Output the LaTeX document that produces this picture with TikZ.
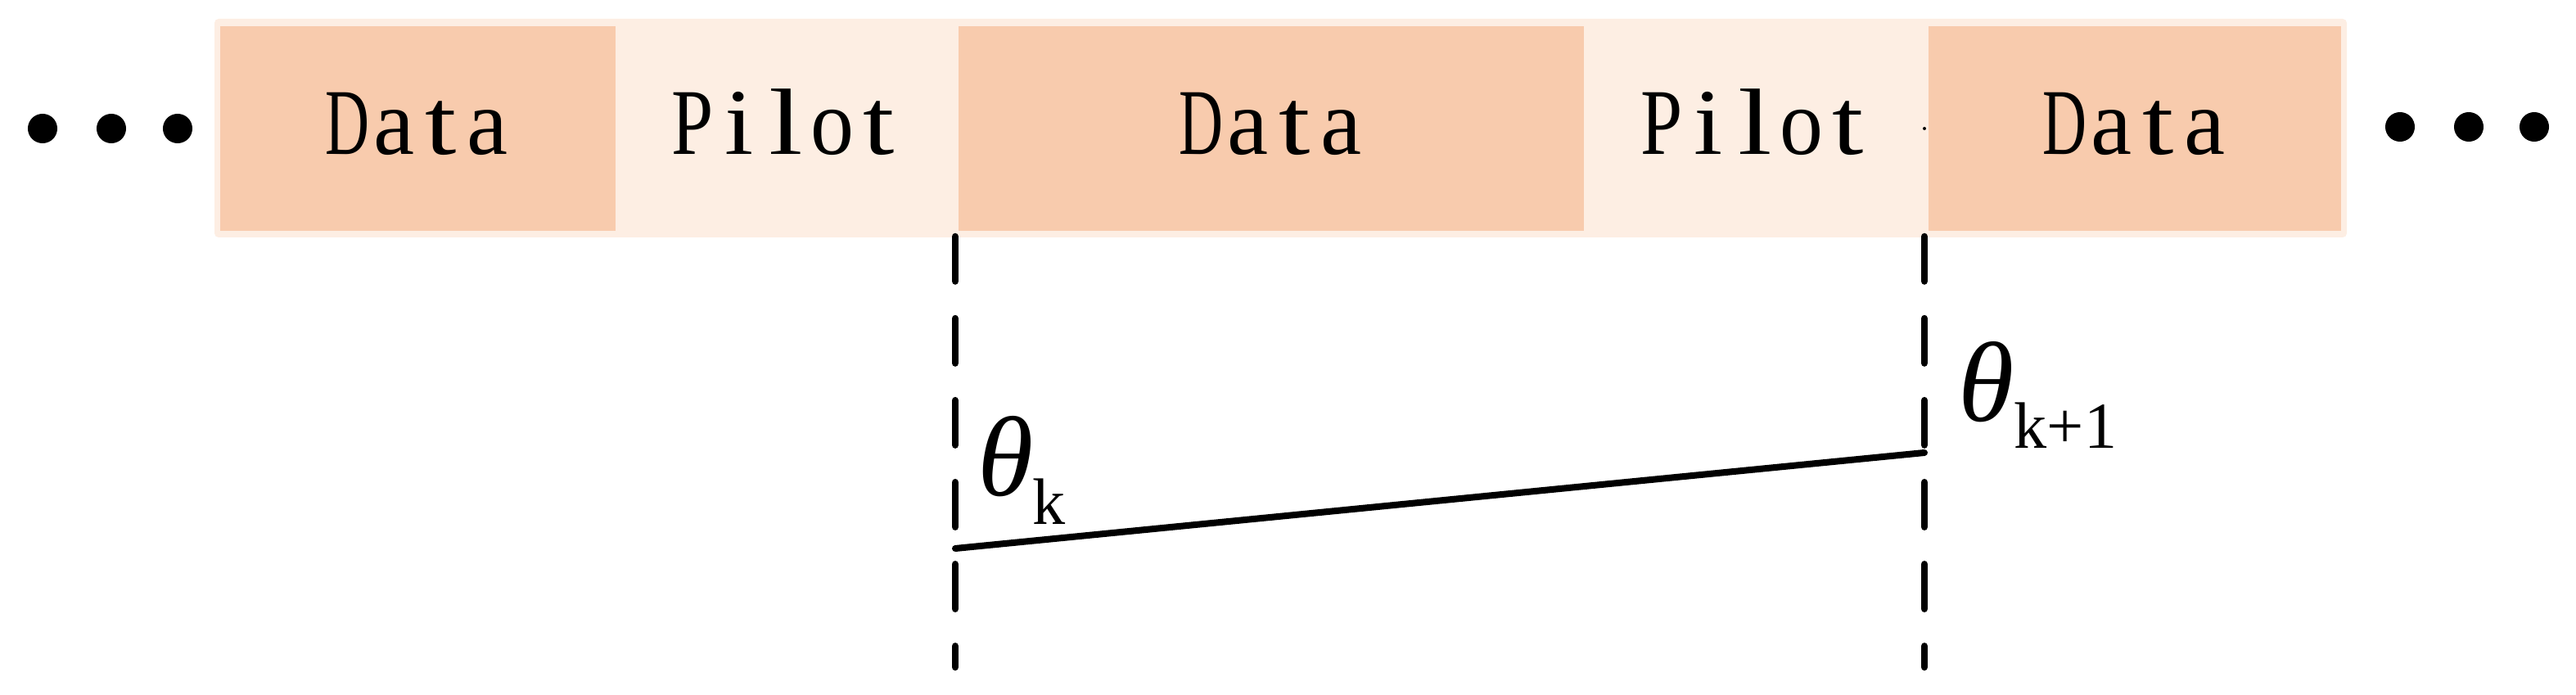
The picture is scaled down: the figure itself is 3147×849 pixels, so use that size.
\documentclass[tikz,border=0pt]{standalone}
\usepackage{fontspec}
\setmainfont{Liberation Serif}
\usepackage{graphicx}
\definecolor{datafill}{HTML}{F8CBAD}
\definecolor{pilotfill}{HTML}{FDEEE3}
\newcommand\mch[2]{\makebox[0.57cm][c]{\scalebox{#1}[1]{#2}}}
\newcommand\wData{\mch{0.65}{D}\mch{0.98}{a}\mch{1.2}{t}\mch{0.98}{a}}
\newcommand\wPilot{\mch{0.8}{P}\mch{1.1}{i}\mch{1.3}{l}\mch{0.92}{o}\mch{1.2}{t}}
\tikzset{
  lbl/.style={anchor=base, inner sep=0pt, font=\fontsize{32.7}{33}\selectfont},
  dashln/.style={line width=0.085cm, line cap=round, dash pattern=on 0.545cm off 0.455cm},
  solidln/.style={line width=0.08cm, line cap=round},
  bigdot/.style={circle, fill=black, minimum size=0.36cm, inner sep=0pt},
  thetalbl/.style={anchor=base west, inner sep=0pt, font=\fontsize{39.5}{40}\selectfont\itshape},
  sublbl/.style={anchor=base west, inner sep=0pt, font=\fontsize{22.8}{23}\selectfont},
}
\begin{document}
\begin{tikzpicture}[x=0.01cm, y=-0.01cm]
\useasboundingbox (0,0) rectangle (3147,849);
% frame
\fill[pilotfill, rounded corners=0.05cm] (262,23) rectangle (2867,290);
\fill[datafill] (269,32) rectangle (752,282);
\fill[datafill] (1171,32) rectangle (1935,282);
\fill[datafill] (2356,32) rectangle (2860,282);
% labels
\node[lbl] (d1) at (510,189) {\wData};
\node[lbl] (p1) at (960,189) {\wPilot};
\node[lbl] (d2) at (1553,189) {\wData};
\node[lbl] (p2) at (2144,189) {\wPilot};
\node[lbl] (d3) at (2608,189) {\wData};
\fill (2351,157) circle (0.02cm);
% ellipsis dots
\node[bigdot] (l1) at (52,157) {};
\node[bigdot] (l2) at (136,157) {};
\node[bigdot] (l3) at (217,157) {};
\node[bigdot] (r1) at (2932,155) {};
\node[bigdot] (r2) at (3016,155) {};
\node[bigdot] (r3) at (3096,155) {};
% dashed markers
\coordinate (ltop) at (1167,289);
\coordinate (lbot) at (1167,815);
\coordinate (rtop) at (2351,289);
\coordinate (rbot) at (2351,815);
\draw[dashln] (ltop) -- (lbot);
\draw[dashln] (rtop) -- (rbot);
% phase line
\coordinate (pk) at (1167,670);
\coordinate (pk1) at (2351,553);
\draw[solidln] (pk) -- (pk1);
% theta labels
\node[thetalbl] (thk) at (1194,606) {θ};
\node[sublbl] (subk) at (1261,640) {k};
\node[thetalbl] (thk1) at (2392,515) {θ};
\node[sublbl] (subk1) at (2460,548) {k+1};
\end{tikzpicture}
\end{document}
